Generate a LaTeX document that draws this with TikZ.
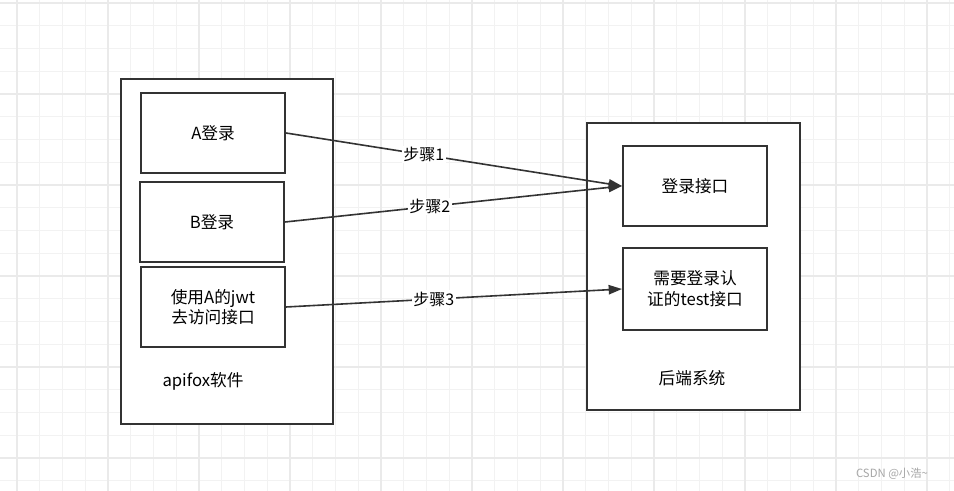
\documentclass[tikz,border=0pt]{standalone}
\usepackage{fontspec}
\setmainfont{Noto Sans CJK SC}
\usetikzlibrary{arrows.meta}
\definecolor{edge}{HTML}{333333}
\definecolor{gridminor}{HTML}{F2F2F2}
\definecolor{gridmajor}{HTML}{EAEAEA}
\begin{document}
\begin{tikzpicture}[
    x=0.75pt, y=-0.75pt,
    box/.style={rectangle, draw=edge, line width=1.5pt, fill=white, inner sep=0pt},
    line/.style={draw=edge, -{Triangle[length=10pt,width=7pt]}, line width=1.2pt},
    step label/.style={fill=white, inner sep=1pt, font=\fontsize{12}{14}\selectfont},
    txt/.style={font=\fontsize{12.5}{15.5}\selectfont, align=center}
]
\useasboundingbox (0,0) rectangle (954,491);
\fill[white] (0,0) rectangle (954,491);

% Grid
\foreach \i in {0,...,42} {
  \draw[gridminor, line width=0.8pt] ({17+22.75*(\i-1)},0) -- ++(0,491);
}
\foreach \j in {0,...,22} {
  \draw[gridminor, line width=0.8pt] (0,{3+22.75*\j}) -- ++(954,0);
}
\foreach \i in {0,...,10} {
  \draw[gridmajor, line width=0.8pt] ({17+91*\i},0) -- ++(0,491);
}
\foreach \j in {0,...,5} {
  \draw[gridmajor, line width=0.8pt] (0,{3+91*\j}) -- ++(954,0);
}

% Client
\node[box, minimum width=159pt, minimum height=259pt] (apifox) at (227,251.5) {};
\node[box, minimum width=108pt, minimum height=60pt, txt] (loginA) at (213,133) {A登录};
\node[box, minimum width=108pt, minimum height=60pt, txt] (loginB) at (212,222) {B登录};
\node[box, minimum width=108pt, minimum height=60pt, txt] (useA) at (213,307) {使用A的jwt\\去访问接口};
\node[txt] (apifoxlabel) at (203,381) {apifox软件};

% Backend
\node[box, minimum width=160pt, minimum height=215pt] (backend) at (693.5,266.5) {};
\node[box, minimum width=108pt, minimum height=60pt, txt] (loginapi) at (695,186) {登录接口};
\node[box, minimum width=108pt, minimum height=61pt, txt] (testapi) at (695,289) {需要登录认\\证的test接口};
\node[txt] (backendlabel) at (692,378) {后端系统};

% Connect nodes
\draw[line] (loginA.east) -- node[step label, pos=0.41] {步骤1} (loginapi.west);
\draw[line] (loginB.east) -- node[step label, pos=0.43] {步骤2} (loginapi.west);
\draw[line] (useA.east) -- node[step label, pos=0.44] {步骤3} (testapi.west);

\node[font=\fontsize{8.5}{10}\selectfont, text=gray!70] (mark) at (892,474) {CSDN @小浩\textasciitilde};
\end{tikzpicture}
\end{document}
